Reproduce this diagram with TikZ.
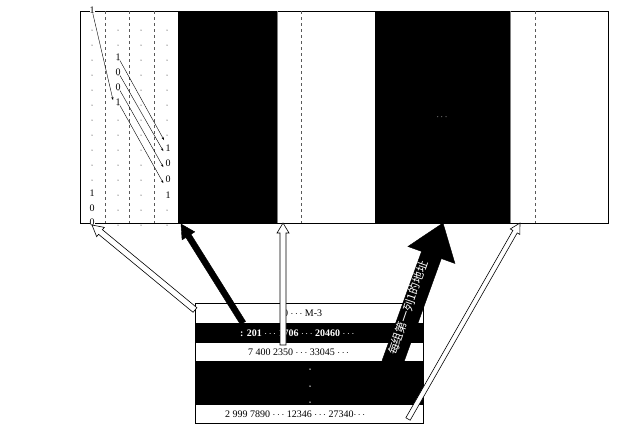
\documentclass[tikz,border=0pt]{standalone}
\usepackage{fontspec}
\setmainfont{Liberation Serif}
\newfontfamily\cjk{Noto Sans CJK SC}
\usetikzlibrary{calc,arrows.meta}
\tikzset{
 dsh/.style={dashed,gray!70!black,line width=0.6pt},
 dig/.style={font=\fontsize{10}{10}\selectfont,inner sep=0pt},
 dotc/.style={fill=black,inner sep=0pt,minimum size=1pt,circle},
 thin arr/.style={-{Stealth[length=3pt]},line width=0.4pt},
 rowtxt/.style={font=\fontsize{10}{11}\selectfont,inner sep=0pt},
 hollow/.style={draw=black,fill=white,line width=0.6pt},
 solid/.style={draw=black,fill=black}
}
\newcommand{\fatarrow}[6]{%
 \path (#3) coordinate (fat) (#2) coordinate (fas);
 \path ($(fat)!#6!(fas)$) coordinate (fah);
 \draw[#1] ($(fas)!#4!90:(fat)$) -- ($(fah)!#4!-90:(fas)$) -- ($(fah)!#5!-90:(fas)$) -- (fat)
   -- ($(fah)!#5!90:(fas)$) -- ($(fah)!#4!90:(fas)$) -- ($(fas)!#4!-90:(fat)$) -- cycle;}
\begin{document}
\begin{tikzpicture}[x=1pt,y=-1pt]
\useasboundingbox (0,0) rectangle (639,440);
% stripes
\fill (178,11) rectangle (277,223);
\fill (375,11) rectangle (510,223);
\draw[line width=0.6pt] (80,11) rectangle (608,223);
\foreach \x in {105,129,154} \draw[dsh] (\x,11) -- (\x,223);
\draw[dsh] (301,11) -- (301,223);
\draw[dsh] (535,11) -- (535,223);
\draw[gray,line width=0.5pt] (277,11) -- (277,223) (510,11)--(510,223);
% dots
\foreach \x in {92,118,141,167}
 \foreach \y in {30,45,...,225} \node[dotc] at (\x,\y) {};
\node[dig,fill=white] (a0) at (92,10) {1};
\node[dig,fill=white] (b1) at (118,57) {1};
\node[dig,fill=white] (b2) at (118,72) {0};
\node[dig,fill=white] (b3) at (118,87) {0};
\node[dig,fill=white] (b4) at (118,102) {1};
\node[dig,fill=white] (c1) at (168,148) {1};
\node[dig,fill=white] (c2) at (168,163) {0};
\node[dig,fill=white] (c3) at (168,179) {0};
\node[dig,fill=white] (c4) at (168,195) {1};
\node[dig,fill=white] (d1) at (92,193) {1};
\node[dig,fill=white] (d2) at (92,208) {0};
\node[dig,fill=white] (d3) at (92,222) {0};
\coordinate (a0e) at (113,100);
\draw[thin arr] (a0) -- (a0e);
\coordinate (e1) at (164,140);
\draw[thin arr] (b1) -- (e1);
\draw[thin arr] (b2) -- ($(c1.west)+(-2,3)$);
\draw[thin arr] (b3) -- ($(c2.west)+(-2,4)$);
\draw[thin arr] (b4) -- ($(c3.west)+(-2,4)$);
\node[white,font=\fontsize{9}{9}\selectfont] (dd) at (442,117) {$\cdots$};
% table
\fill (195,323) rectangle (423,343);
\fill (195,361) rectangle (423,405);
\draw[line width=0.6pt] (195,303) rectangle (423,423);
\node[rowtxt,anchor=west] (r1) at (283,313) {0 $\cdots$ M-3};
\node[rowtxt,anchor=west,white,font=\bfseries\fontsize{10}{11}\selectfont] (r2) at (240,333) {: 201 $\cdots$ 1706 $\cdots$ 20460 $\cdots$};
\node[rowtxt,anchor=west] (r3) at (248,352) {7 400 2350 $\cdots$ 33045 $\cdots$};
\foreach \y in {369,386,402} \node[white,inner sep=0pt,minimum size=1.5pt,circle,fill=white] at (310,\y) {};
\node[rowtxt,anchor=west] (r5) at (225,414) {2 999 7890 $\cdots$ 12346 $\cdots$ 27340$\cdots$};
% arrows
\coordinate (t1) at (195,310); \coordinate (h1) at (92,225);
\fatarrow{hollow}{t1}{h1}{3pt}{6pt}{11pt}
\coordinate (t2) at (243,323); \coordinate (h2) at (181,224);
\fatarrow{solid}{t2}{h2}{3pt}{7.5pt}{14pt}
\coordinate (t3) at (283,345); \coordinate (h3) at (283,223);
\fatarrow{hollow}{t3}{h3}{3pt}{6pt}{10pt}
\coordinate (t4) at (408,419); \coordinate (h4) at (520,223);
\fatarrow{hollow}{t4}{h4}{2.5pt}{5.5pt}{10pt}
\coordinate (t5) at (392,364); \coordinate (h5) at (443,223);
\fatarrow{solid}{t5}{h5}{10.5pt}{25pt}{34pt}
\node[white,rotate=71,font=\cjk\fontsize{11.5}{12}\selectfont,inner sep=0pt] (lbl) at (408,308) {每组第一列1的地址};
\end{tikzpicture}
\end{document}
